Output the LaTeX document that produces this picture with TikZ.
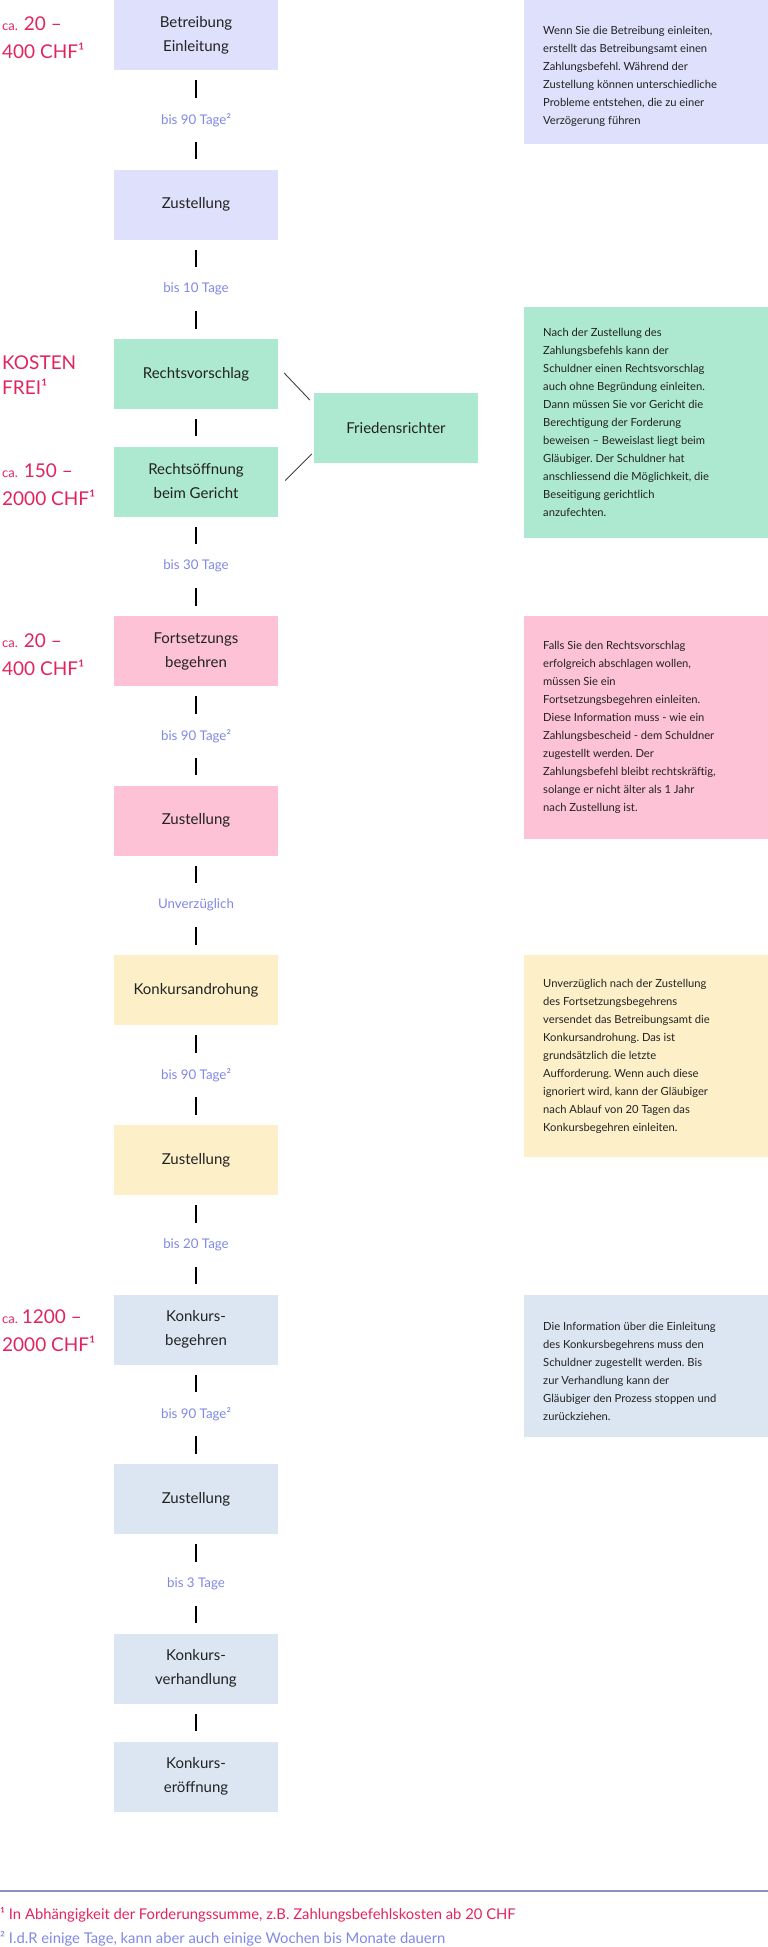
\documentclass[tikz,border=0pt]{standalone}
\usepackage{fontspec}
\setmainfont{Lato}
\usetikzlibrary{calc}
\definecolor{lav}{HTML}{DFE0FB}
\definecolor{mint}{HTML}{ADE8D1}
\definecolor{pinkbox}{HTML}{FDC2D6}
\definecolor{yel}{HTML}{FDF0C9}
\definecolor{bluebox}{HTML}{DCE6F2}
\definecolor{ink}{HTML}{222222}
\definecolor{dur}{HTML}{7F88E6}
\definecolor{costred}{HTML}{E2245E}
\definecolor{footline}{HTML}{8E90BC}
\frenchspacing
\begin{document}
\begin{tikzpicture}[x=1pt,y=-1pt,
  stepbox/.style={fill=#1, minimum width=164pt, minimum height=70pt, inner sep=0pt,
    align=center, text=ink, font=\fontsize{15}{24}\selectfont},
  descbox/.style={fill=#1, minimum width=244pt, inner sep=0pt, anchor=north west},
  desctext/.style={anchor=west, align=left, inner sep=0pt, text=ink,
    font=\fontsize{11.2}{18}\selectfont},
  durlabel/.style={text=dur, inner sep=0pt, font=\fontsize{13.3}{15}\selectfont},
  cost/.style={text=costred, align=left, inner sep=0pt, anchor=base west,
    font=\fontsize{19}{28}\selectfont},
  fn/.style={anchor=base west, inner sep=0pt, font=\fontsize{14.8}{18}\selectfont},
  conn/.style={draw=black, line width=1.3pt},
  diag/.style={draw=black!75, line width=0.9pt}
]
\useasboundingbox (0,0) rectangle (768,1947);

% left process boxes
\node[stepbox=lav] (b1) at (196,35) {Betreibung\\Einleitung};
\node[stepbox=lav] (b2) at (196,204.5) {Zustellung};
\node[stepbox=mint] (b3) at (196,374) {Rechtsvorschlag};
\node[stepbox=mint] (b4) at (196,481.5) {Rechtsöffnung\\beim Gericht};
\node[stepbox=mint] (fr) at (396,428) {Friedensrichter};
\node[stepbox=pinkbox] (b5) at (196,651) {Fortsetzungs\\begehren};
\node[stepbox=pinkbox] (b6) at (196,820.5) {Zustellung};
\node[stepbox=yel] (b7) at (196,990) {Konkursandrohung};
\node[stepbox=yel] (b8) at (196,1160) {Zustellung};
\node[stepbox=bluebox] (b9) at (196,1329.5) {Konkurs-\\begehren};
\node[stepbox=bluebox] (b10) at (196,1499) {Zustellung};
\node[stepbox=bluebox] (b11) at (196,1668.5) {Konkurs-\\verhandlung};
\node[stepbox=bluebox] (b12) at (196,1776.5) {Konkurs-\\eröffnung};

% duration labels
\node[durlabel] (l1) at (196,120) {bis 90 Tage²};
\node[durlabel] (l2) at (196,289) {bis 10 Tage};
\node[durlabel] (l3) at (196,566) {bis 30 Tage};
\node[durlabel] (l4) at (196,736) {bis 90 Tage²};
\node[durlabel] (l5) at (196,905) {Unverzüglich};
\node[durlabel] (l6) at (196,1075) {bis 90 Tage²};
\node[durlabel] (l7) at (196,1245) {bis 20 Tage};
\node[durlabel] (l8) at (196,1414) {bis 90 Tage²};
\node[durlabel] (l9) at (196,1584) {bis 3 Tage};

% connectors
\foreach \a/\l/\b in {b1/l1/b2, b2/l2/b3, b4/l3/b5, b5/l4/b6, b6/l5/b7, b7/l6/b8, b8/l7/b9, b9/l8/b10, b10/l9/b11}{
  \draw[conn, shorten <=10pt, shorten >=22pt] (\a.south) -- (\l.center);
  \draw[conn, shorten <=22pt, shorten >=10pt] (\l.center) -- (\b.north);
}
\draw[conn, shorten <=10pt, shorten >=10pt] (b3.south) -- (b4.north);
\draw[conn, shorten <=10pt, shorten >=10pt] (b11.south) -- (b12.north);
\draw[diag] ([xshift=6pt,yshift=1pt]b3.east) -- ([xshift=-4pt,yshift=28pt]fr.west);
\draw[diag] ([xshift=7pt,yshift=1pt]b4.east) -- ([xshift=-2pt,yshift=-26pt]fr.west);

% cost labels (anchored at the baseline of the last line)
\node[cost] (c1) at (2,58) {{\fontsize{13}{28}\selectfont ca.}\hspace{6pt}20 –\\400 CHF¹};
\node[cost, font=\fontsize{19}{25}\selectfont] (c2) at (2,394) {KOSTEN\\FREI¹};
\node[cost] (c3) at (2,505) {{\fontsize{13}{28}\selectfont ca.}\hspace{6pt}150 –\\2000 CHF¹};
\node[cost] (c4) at (2,675) {{\fontsize{13}{28}\selectfont ca.}\hspace{6pt}20 –\\400 CHF¹};
\node[cost] (c5) at (2,1351) {{\fontsize{13}{28}\selectfont ca.}\hspace{4pt}1200 –\\2000 CHF¹};

% description boxes
\node[descbox=lav, minimum height=144pt] (d1) at (524,0) {};
\node[desctext, yshift=-4pt] (t1) at ([xshift=19pt]d1.west) {Wenn Sie die Betreibung einleiten,\\erstellt das Betreibungsamt einen\\Zahlungsbefehl. Während der\\Zustellung können unterschiedliche\\Probleme entstehen, die zu einer\\Verzögerung führen};
\node[descbox=mint, minimum height=231pt] (d2) at (524,307) {};
\node[desctext] (t2) at ([xshift=19pt]d2.west) {Nach der Zustellung des\\Zahlungsbefehls kann der\\Schuldner einen Rechtsvorschlag\\auch ohne Begründung einleiten.\\Dann müssen Sie vor Gericht die\\Berechtigung der Forderung\\beweisen – Beweislast liegt beim\\Gläubiger. Der Schuldner hat\\anschliessend die Möglichkeit, die\\Beseitigung gerichtlich\\anzufechten.};
\node[descbox=pinkbox, minimum height=223pt] (d3) at (524,616) {};
\node[desctext] (t3) at ([xshift=19pt]d3.west) {Falls Sie den Rechtsvorschlag\\erfolgreich abschlagen wollen,\\müssen Sie ein\\Fortsetzungsbegehren einleiten.\\Diese Information muss - wie ein\\Zahlungsbescheid - dem Schuldner\\zugestellt werden. Der\\Zahlungsbefehl bleibt rechtskräftig,\\solange er nicht älter als 1 Jahr\\nach Zustellung ist.};
\node[descbox=yel, minimum height=202pt] (d4) at (524,955) {};
\node[desctext] (t4) at ([xshift=19pt]d4.west) {Unverzüglich nach der Zustellung\\des Fortsetzungsbegehrens\\versendet das Betreibungsamt die\\Konkursandrohung. Das ist\\grundsätzlich die letzte\\Aufforderung. Wenn auch diese\\ignoriert wird, kann der Gläubiger\\nach Ablauf von 20 Tagen das\\Konkursbegehren einleiten.};
\node[descbox=bluebox, minimum height=142pt] (d5) at (524,1295) {};
\node[desctext, yshift=-5pt] (t5) at ([xshift=19pt]d5.west) {Die Information über die Einleitung\\des Konkursbegehrens muss den\\Schuldner zugestellt werden. Bis\\zur Verhandlung kann der\\Gläubiger den Prozess stoppen und\\zurückziehen.};

% footnotes
\coordinate (fl) at (0,1891);
\coordinate (fr2) at (768,1891);
\draw[draw=footline, line width=1.4pt] (fl) -- (fr2);
\node[fn, text=costred] (f1) at (0,1919) {¹ In Abhängigkeit der Forderungssumme, z.B. Zahlungsbefehlskosten ab 20 CHF};
\node[fn, text=dur] (f2) at (0,1943) {² I.d.R einige Tage, kann aber auch einige Wochen bis Monate dauern};
\end{tikzpicture}
\end{document}
